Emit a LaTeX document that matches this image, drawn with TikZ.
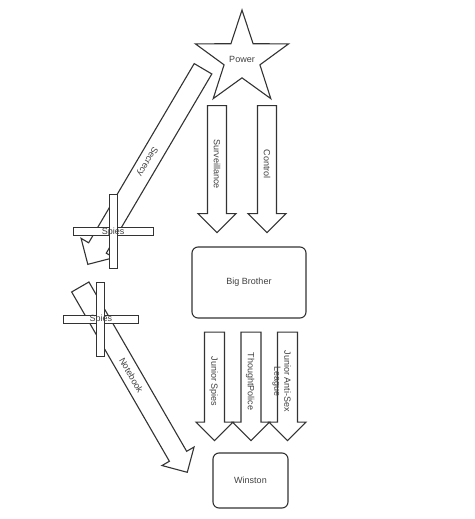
\documentclass[tikz,border=0pt]{standalone}
\usepackage{fontspec}
\setmainfont{Liberation Sans}
\usetikzlibrary{shapes.geometric, shapes.arrows}

\begin{document}
\begin{tikzpicture}[x=1pt, y=-1pt, line width=1.1pt,
    every node/.style={font=\fontsize{9}{10}\selectfont, text=black!75},
    box/.style={draw=black!80, rectangle, rounded corners=6pt, inner sep=0pt},
    barrow/.style={draw=black!80, fill=white, single arrow, inner sep=0pt, anchor=tail,
      minimum width=38pt, text height=9.7pt, text depth=3.3pt},
    wide/.style={text height=11pt, text depth=4.5pt, minimum width=37pt},
    hbar/.style={draw=black!80, fill=white, rectangle, inner sep=0pt, minimum width=80pt, minimum height=8pt},
    vbar/.style={draw=black!80, fill=white, rectangle, inner sep=0pt, minimum width=8pt, minimum height=74pt}]
    \useasboundingbox (0,0) rectangle (474,519);

    \node [draw=black!80, fill=white, star, star points=5, star point ratio=2.6,
      minimum size=98pt, inner sep=0pt] (power) at (242,59) {Power};
    \node [box, minimum width=114pt, minimum height=71pt] (big_brother) at (249,282.5) {Big Brother};
    \node [box, minimum width=75pt, minimum height=55pt] (winston) at (250.5,480.5) {Winston};

    % power to big brother
    \node [barrow, rotate=-90, minimum height=127pt] (surveillance) at (217,105) {Surveillance};
    \node [barrow, rotate=-90, minimum height=127pt] (control) at (267,105) {Control};
    \node [barrow, wide, rotate=-120.5, minimum height=227pt, minimum width=38pt] (secrecy) at (203.3,68.3) {Secrecy};

    % big brother to winston
    \node [barrow, wide, rotate=-90, minimum height=108.5pt] (junior_spies) at (214.5,331.5) {Junior Spies};
    \node [barrow, wide, rotate=-90, minimum height=108.5pt] (thought_police) at (251,331.5) {ThoughtPolice};
    \node [barrow, wide, rotate=-90, minimum height=108.5pt] (anti_sex) at (287.5,331.5)
      {\begin{tabular}[t]{@{}c@{}}Junior Anti-Sex\\League\end{tabular}};
    \node [barrow, wide, rotate=-60, minimum height=214pt] (notebook) at (80,286.5) {Notebook};

    % spies
    \node [hbar] (spies_1h) at (113.2,231.7) {};
    \node [vbar] (spies_1v) at (113.2,231.7) {};
    \node (spies_1) at (113.2,231.7) {Spies};
    \node [hbar, minimum width=75pt] (spies_2h) at (100.8,319.5) {};
    \node [vbar] (spies_2v) at (100.8,319.5) {};
    \node (spies_2) at (100.8,319.5) {Spies};
\end{tikzpicture}
\end{document}
